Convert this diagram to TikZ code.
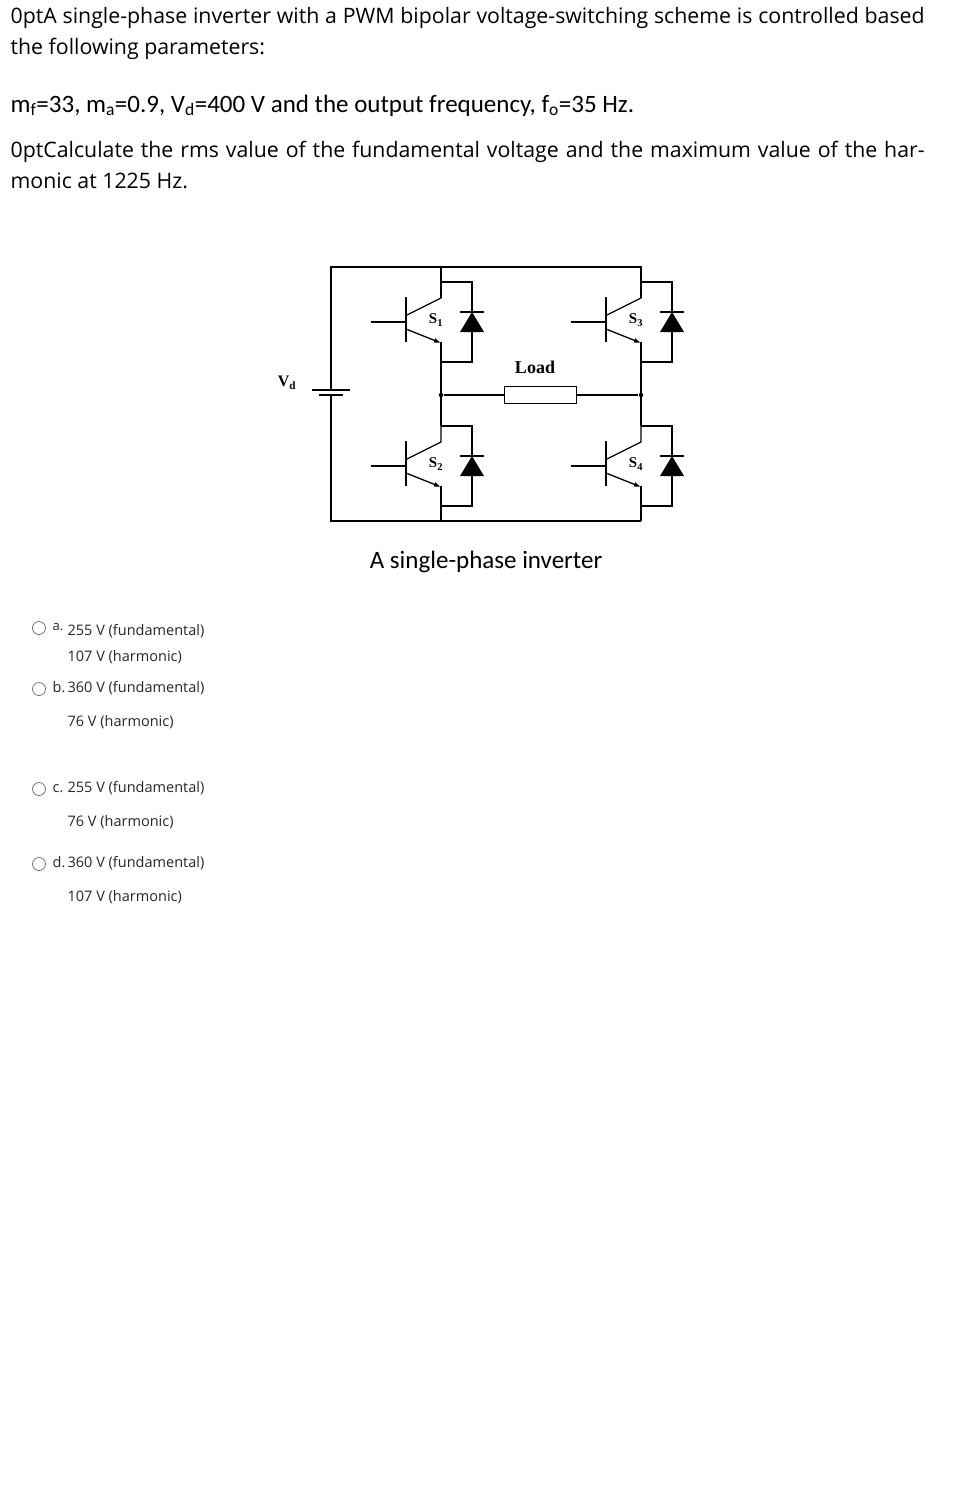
\documentclass[tikz,border=0pt]{standalone}
\usepackage{fontspec}
\usetikzlibrary{arrows.meta}
\setmainfont{Open Sans}
\newfontfamily\calfont{Carlito}
\newfontfamily\tmsfont{Liberation Serif}
\begin{document}
\begin{tikzpicture}[x=1pt,y=-1pt,line width=1.3pt,
  para/.style={anchor=north west,align=justify,text width=914pt,inner sep=0pt,font=\fontsize{21.3}{31}\selectfont\hyphenpenalty=10000\exhyphenpenalty=10000},
  opt/.style={anchor=base west,inner sep=0pt,font=\fontsize{14.5}{16}\selectfont,text=black!85},
  radio/.style={draw=black!60,line width=0.7pt,circle,minimum size=13pt,inner sep=0pt},
  slab/.style={font=\tmsfont\bfseries\fontsize{15}{16}\selectfont,inner sep=0pt},
  dot/.style={circle,fill,inner sep=0pt,minimum size=4.5pt}]
\useasboundingbox (0,0) rectangle (958,1500);
\node[para] (t1) at (10,7) {A single-phase inverter with a PWM bipolar voltage-switching scheme is controlled based the following parameters:};
\node[anchor=base west,inner sep=0pt,font=\calfont\fontsize{25}{28}\selectfont] (t2) at (10,112) {m\textsubscript{f}=33, m\textsubscript{a}=0.9, V\textsubscript{d}=400 V and the output frequency, f\textsubscript{o}=35 Hz.};
\node[para] (t3) at (10,141) {Calculate the rms value of the fundamental voltage and the maximum value of the harmonic at 1225 Hz.};
% frame
\draw (331,390) -- (331,267) -- (641,267) -- (641,298);
\draw (331,395) -- (331,521) -- (641,521);
\draw (441,267) -- (441,298);
\draw (312,390) -- (350,390);
\draw (319,395) -- (343,395);
\node[slab,font=\tmsfont\bfseries\fontsize{16}{16}\selectfont] (vd) at (287,383) {V\textsubscript{d}};
\newcommand\myigbt[3]{%
 \begin{scope}[shift={(#1,#2)}]
 \draw (0,0) -- (0,16) -- (-34,33);
 \draw (-35,15) -- (-35,60);
 \draw (-70,40) -- (-35,40);
 \draw[-{Latex[length=7pt,width=5pt]}] (-35,47) -- (0,61);
 \draw (0,60) -- (0,80);
 \draw (0,0) -- (31,0) -- (31,80) -- (0,80);
 \draw (19,30) -- (43,30);
 \fill (19,50) -- (43,50) -- (31,30) -- cycle;
 \node[slab] at (-5,38) {#3};
 \end{scope}}
\myigbt{441}{282}{S\textsubscript{1}}
\myigbt{641}{282}{S\textsubscript{3}}
\myigbt{441}{426}{S\textsubscript{2}}
\myigbt{641}{426}{S\textsubscript{4}}
\draw (441,362) -- (441,426);
\draw (641,362) -- (641,426);
\draw (441,506) -- (441,521);
\draw (641,506) -- (641,521);
\node[dot] (na) at (441,395) {};
\node[dot] (nb) at (641,395) {};
\node[draw,line width=0.9pt,minimum width=72pt,minimum height=17pt,inner sep=0pt] (load) at (540,395) {};
\draw (na) -- (load.west);
\draw (load.east) -- (nb);
\node[slab,font=\tmsfont\bfseries\fontsize{18}{18}\selectfont] (ll) at (535,367) {Load};
\node[font=\calfont\fontsize{25}{28}\selectfont,inner sep=0pt] (cap) at (486,562) {A single-phase inverter};
% options
\node[radio] (ra) at (39,628) {};
\node[opt,font=\fontsize{13}{16}\selectfont] (la) at (52,630) {a.};
\node[opt] (fa) at (67,635) {255 V (fundamental)};
\node[opt] (ha) at (67,661) {107 V (harmonic)};
\node[radio] (rb) at (39,689) {};
\node[opt] (lb) at (52,692) {b.};
\node[opt] (fb) at (67,692) {360 V (fundamental)};
\node[opt] (hb) at (67,726) {76 V (harmonic)};
\node[radio] (rc) at (39,789) {};
\node[opt] (lc) at (52,792) {c.};
\node[opt] (fc) at (67,792) {255 V (fundamental)};
\node[opt] (hc) at (67,826) {76 V (harmonic)};
\node[radio] (rd) at (39,864) {};
\node[opt] (ld) at (52,867) {d.};
\node[opt] (fd) at (67,867) {360 V (fundamental)};
\node[opt] (hd) at (67,901) {107 V (harmonic)};
\end{tikzpicture}
\end{document}
